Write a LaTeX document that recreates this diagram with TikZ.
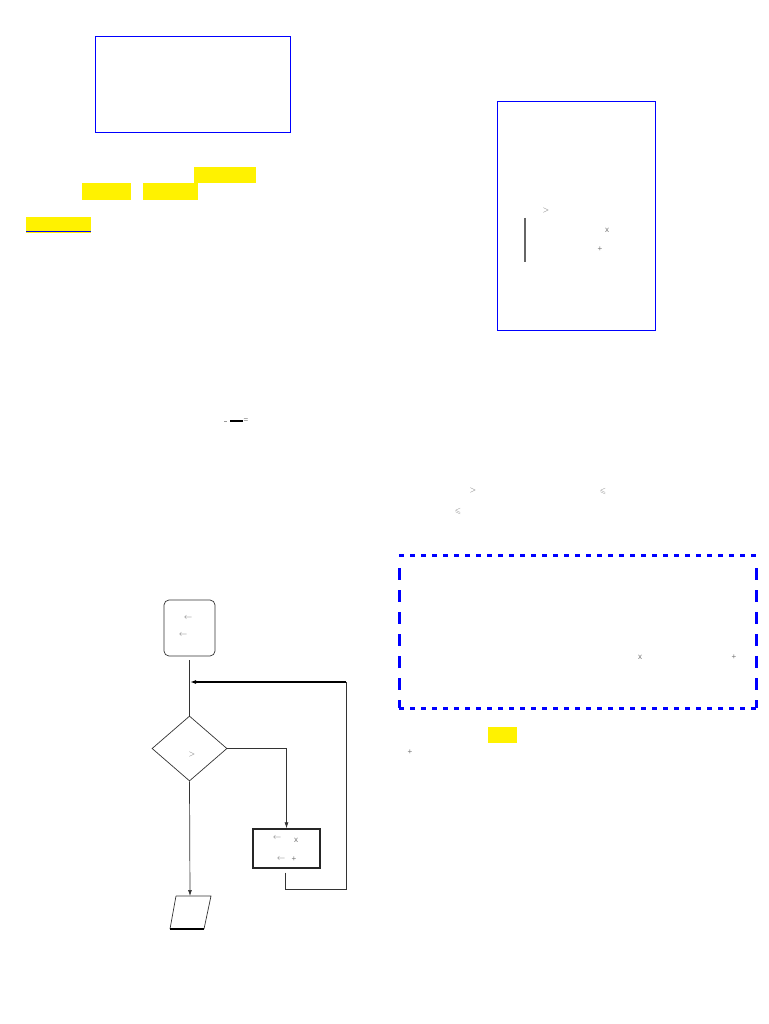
\documentclass[tikz,border=0pt]{standalone}
\usepackage{amssymb}
\usepackage{fontspec}
\setmainfont{Liberation Sans}
\usetikzlibrary{shapes.geometric,arrows.meta}
\begin{document}
\begin{tikzpicture}[x=1pt,y=-1pt,
  blueframe/.style={draw=blue,line width=0.9pt,inner sep=0pt},
  hl/.style={fill=yellow,draw=none,inner sep=0pt},
  sym/.style={text=black!55,font=\fontsize{8}{9}\selectfont,inner sep=0pt},
  flow/.style={draw=black!80,line width=0.7pt},
  arr/.style={-{Latex[length=6pt,width=4pt]}},
  dashtb/.style={draw=blue,line width=3pt,dash pattern=on 5pt off 6pt},
  dashlr/.style={draw=blue,line width=3pt,dash pattern=on 12pt off 10pt}]
\useasboundingbox (0,0) rectangle (768,1024);
\fill[white] (0,0) rectangle (768,1024);
% top-left frame
\node[blueframe,minimum width=195,minimum height=96] (b1) at (192.5,84) {};
% highlights
\node[hl,minimum width=62,minimum height=16] (y1) at (225,175.5) {};
\node[hl,minimum width=49,minimum height=17] (y2) at (106.5,192) {};
\node[hl,minimum width=55,minimum height=17] (y3) at (170.5,192) {};
\node[hl,minimum width=65,minimum height=16] (y4) at (58.5,225) {};
\draw[blue,line width=1.5pt] (26,231.5) -- (91,231.5);
% right frame
\node[blueframe,minimum width=158,minimum height=229] (b2) at (576,215.5) {};
\node[sym] (r1) at (546,211) {$>$};
\node[sym] (r2) at (607,230) {x};
\node[sym] (r3) at (600,249) {+};
\draw[black!60,line width=1.2pt] (525,218) -- (525,262);
% small dash
\draw[black!40,line width=1pt] (224,421) -- (227,421);
\draw[black,line width=1.3pt] (230,421) -- (243,421);
\node[sym] (d2) at (246,421) {=};
% symbols
\node[sym] (s1) at (473,490) {$>$};
\node[sym] (s2) at (603,491) {$\leqslant$};
\node[sym] (s3) at (458,511) {$\leqslant$};
% dashed frame
\coordinate (dA) at (399,555);
\coordinate (dB) at (756,555);
\coordinate (dC) at (756,708);
\coordinate (dD) at (399,708);
\coordinate (dA2) at (399,568);
\coordinate (dB2) at (756,568);
\draw[dashtb] (dA) -- (dB);
\draw[dashtb] (dD) -- (dC);
\draw[dashlr] (dA2) -- (dD);
\draw[dashlr] (dB2) -- (dC);
\node[sym] (x1) at (640,657) {x};
\node[sym] (x2) at (734,657) {+};
% small highlight and plus
\node[hl,minimum width=29,minimum height=16] (y5) at (502.5,734.5) {};
\node[sym] (p1) at (410,752) {+};
% flowchart
\node[flow,rounded corners=5pt,minimum width=51,minimum height=56,inner sep=0pt] (start) at (189.5,628) {};
\node[sym] at (188,618) {$\leftarrow$};
\node[sym] at (183,635) {$\leftarrow$};
\node[flow,diamond,minimum width=75,minimum height=65,inner sep=0pt] (cond) at (189.5,748.5) {};
\node[sym] at (192,754) {$>$};
\node[draw=black!85,line width=1.4pt,minimum width=67,minimum height=39,inner sep=0pt] (body) at (286.5,848.5) {};
\node[sym] at (277,838) {$\leftarrow$};
\node[sym] at (296,840) {x};
\node[sym] at (281,859) {$\leftarrow$};
\node[sym] at (294,859) {+};
\coordinate (pTL) at (176,896);
\coordinate (pTR) at (211,896);
\coordinate (pBR) at (204,929);
\coordinate (pBL) at (170,929);
\coordinate (pTop) at (190,896);
\draw[flow] (pTL) -- (pTR) -- (pBR);
\draw[flow] (pBL) -- (pTL);
\draw[black,line width=1.2pt] (pBL) -- (pBR);
\coordinate (join) at (190,682);
\coordinate (loopR) at (346,682);
\draw[flow] (start.south) ++(0,4) -- (cond.north);
\draw[flow,arr] (cond.east) -| (body.north);
\draw[flow,arr] (cond.south) -- (pTop);
\draw[flow] (body.south) ++(-1,4) -- ++(0,17) -| (loopR);
\draw[black,line width=1.3pt,arr] (loopR) -- (join);
\end{tikzpicture}
\end{document}
